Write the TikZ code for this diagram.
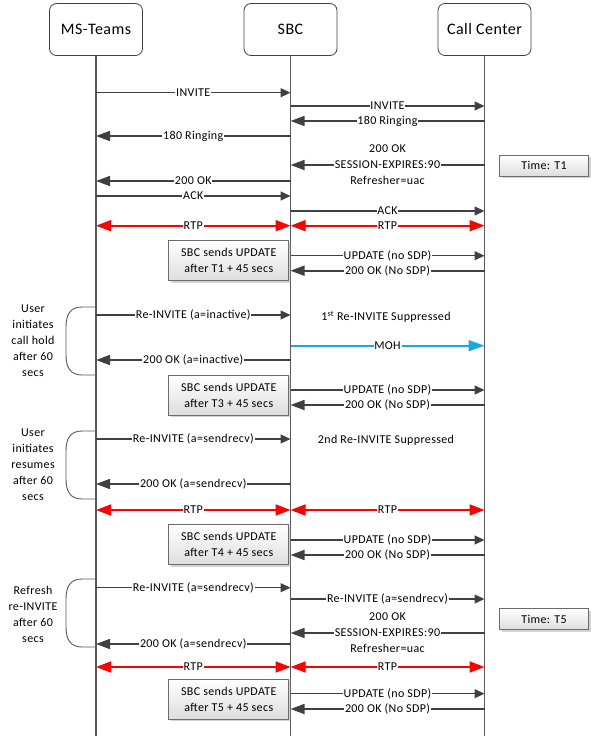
\documentclass[tikz,border=0pt]{standalone}
\usepackage{fontspec}
\setmainfont{Carlito}[LetterSpace=3]
\usetikzlibrary{arrows.meta,shadows}
\definecolor{ln}{HTML}{404040}
\definecolor{lifec}{HTML}{595959}
\definecolor{mohc}{HTML}{1AA7E8}
\begin{document}
\begin{tikzpicture}[x=1pt,y=-1pt,
  head/.style={draw=ln, line width=0.8pt, rounded corners=7pt, minimum width=93pt, minimum height=52pt, inner sep=0pt, font=\fontsize{16}{19}\selectfont},
  lifeln/.style={draw=lifec, line width=1.6pt},
  req/.style={draw=ln, line width=1.3pt, -{Triangle[length=10pt,width=9pt]}},
  rsp/.style={draw=ln, line width=1.7pt, -{Triangle[length=14pt,width=10pt]}},
  rtparr/.style={draw=red, line width=1.7pt, {Triangle[length=15pt,width=11pt]}-{Triangle[length=15pt,width=11pt]}},
  moharr/.style={draw=mohc, line width=1.7pt, -{Triangle[length=16pt,width=11pt]}},
  lbl/.style={fill=white, inner xsep=0.8pt, inner ysep=0.5pt, font=\fontsize{12}{16}\selectfont, align=center},
  txt/.style={inner sep=0pt, font=\fontsize{12}{16}\selectfont, align=center},
  notebox/.style={draw=gray!85!black, line width=0.8pt, top color=white, bottom color=black!13, drop shadow={shadow xshift=2pt, shadow yshift=-2pt, opacity=0.35}, align=center, inner sep=0pt, font=\fontsize{12}{16}\selectfont},
  bracec/.style={draw=lifec, line width=0.9pt}
]
\useasboundingbox (0,0) rectangle (591,736);

% headers
\node[head] (A) at (96,29.5) {MS-Teams};
\node[head] (B) at (290.5,29.5) {SBC};
\node[head] (C) at (484.5,29.5) {Call Center};

% lifelines
\coordinate (Aend) at (96,736);
\coordinate (Bend) at (290.5,736);
\coordinate (Cend) at (484.5,736);
\draw[lifeln] (A.south) -- (Aend);
\draw[lifeln] (B.south) -- (Bend);
\draw[lifeln] (C.south) -- (Cend);

% call setup
\draw[req] (A |- 0,92.7) -- node[lbl] {INVITE} (B |- 0,92.7);
\draw[req] (B |- 0,106) -- node[lbl] {INVITE} (C |- 0,106);
\draw[rsp] (C |- 0,121) -- node[lbl] {180 Ringing} (B |- 0,121);
\draw[rsp] (B |- 0,136) -- node[lbl] {180 Ringing} (A |- 0,136);
\draw[rsp] (C |- 0,165) -- node[lbl] {200 OK\\SESSION-EXPIRES:90\\Refresher=uac} (B |- 0,165);
\draw[rsp] (B |- 0,181) -- node[lbl] {200 OK} (A |- 0,181);
\draw[req] (A |- 0,196) -- node[lbl] {ACK} (B |- 0,196);
\draw[req] (B |- 0,211) -- node[lbl] {ACK} (C |- 0,211);
\draw[rtparr] (A |- 0,225.7) -- node[lbl] {RTP} (B |- 0,225.7);
\draw[rtparr] (B |- 0,225.7) -- node[lbl] {RTP} (C |- 0,225.7);

\node[notebox, minimum width=89pt, minimum height=21pt] (T1) at (544,165.5) {Time: T1};

% update 1
\node[notebox, minimum width=120pt, minimum height=40pt] (N1) at (228.8,260.7) {SBC sends UPDATE\\after T1 + 45 secs};
\draw[req] (B |- 0,255.7) -- node[lbl] {UPDATE (no SDP)} (C |- 0,255.7);
\draw[rsp] (C |- 0,270.7) -- node[lbl] {200 OK (No SDP)} (B |- 0,270.7);

% hold
\draw[bracec] (A |- 0,307) -- (82,307) .. controls (70,307) and (66,315) .. (66,327) -- (66,355) .. controls (66,367) and (70,375) .. (82,375) -- (A |- 0,375);
\node[txt] (H1) at (33,341) {User\\initiates\\call hold\\after 60\\secs};
\draw[req] (A |- 0,315) -- node[lbl] {Re-INVITE (a=inactive)} (B |- 0,315);
\node[txt] (S1) at (386,317) {1\textsuperscript{st} Re-INVITE Suppressed};
\draw[moharr] (B |- 0,345.7) -- node[lbl] {MOH} (C |- 0,345.7);
\draw[rsp] (B |- 0,360) -- node[lbl] {200 OK (a=inactive)} (A |- 0,360);

% update 2
\node[notebox, minimum width=120pt, minimum height=40pt] (N2) at (228.8,395) {SBC sends UPDATE\\after T3 + 45 secs};
\draw[req] (B |- 0,390) -- node[lbl] {UPDATE (no SDP)} (C |- 0,390);
\draw[rsp] (C |- 0,405) -- node[lbl] {200 OK (No SDP)} (B |- 0,405);

% resume
\draw[bracec] (A |- 0,431) -- (82,431) .. controls (70,431) and (66,439) .. (66,451) -- (66,479) .. controls (66,491) and (70,499) .. (82,499) -- (A |- 0,499);
\node[txt] (H2) at (33,465) {User\\initiates\\resumes\\after 60\\secs};
\draw[req] (A |- 0,439) -- node[lbl] {Re-INVITE (a=sendrecv)} (B |- 0,439);
\node[txt] (S2) at (386,440) {2nd Re-INVITE Suppressed};
\draw[rsp] (B |- 0,484) -- node[lbl] {200 OK (a=sendrecv)} (A |- 0,484);
\draw[rtparr] (A |- 0,510) -- node[lbl] {RTP} (B |- 0,510);
\draw[rtparr] (B |- 0,510) -- node[lbl] {RTP} (C |- 0,510);

% update 3
\node[notebox, minimum width=120pt, minimum height=40pt] (N3) at (228.8,544.5) {SBC sends UPDATE\\after T4 + 45 secs};
\draw[req] (B |- 0,540) -- node[lbl] {UPDATE (no SDP)} (C |- 0,540);
\draw[rsp] (C |- 0,555) -- node[lbl] {200 OK (No SDP)} (B |- 0,555);

% refresh
\draw[bracec] (A |- 0,579) -- (82,579) .. controls (70,579) and (66,587) .. (66,599) -- (66,627) .. controls (66,639) and (70,647) .. (82,647) -- (A |- 0,647);
\node[txt] (H3) at (33,614) {Refresh\\re-INVITE\\after 60\\secs};
\draw[req] (A |- 0,587.7) -- node[lbl] {Re-INVITE (a=sendrecv)} (B |- 0,587.7);
\draw[req] (B |- 0,599) -- node[lbl] {Re-INVITE (a=sendrecv)} (C |- 0,599);
\draw[rsp] (C |- 0,633) -- node[lbl] {200 OK\\SESSION-EXPIRES:90\\Refresher=uac} (B |- 0,633);
\draw[rsp] (B |- 0,644) -- node[lbl] {200 OK (a=sendrecv)} (A |- 0,644);
\node[notebox, minimum width=89pt, minimum height=21pt] (T5) at (544,619) {Time: T5};
\draw[rtparr] (A |- 0,667) -- node[lbl] {RTP} (B |- 0,667);
\draw[rtparr] (B |- 0,667) -- node[lbl] {RTP} (C |- 0,667);

% update 4
\node[notebox, minimum width=120pt, minimum height=40pt] (N4) at (228.8,699) {SBC sends UPDATE\\after T5 + 45 secs};
\draw[req] (B |- 0,693.7) -- node[lbl] {UPDATE (no SDP)} (C |- 0,693.7);
\draw[rsp] (C |- 0,709) -- node[lbl] {200 OK (No SDP)} (B |- 0,709);
\end{tikzpicture}
\end{document}
